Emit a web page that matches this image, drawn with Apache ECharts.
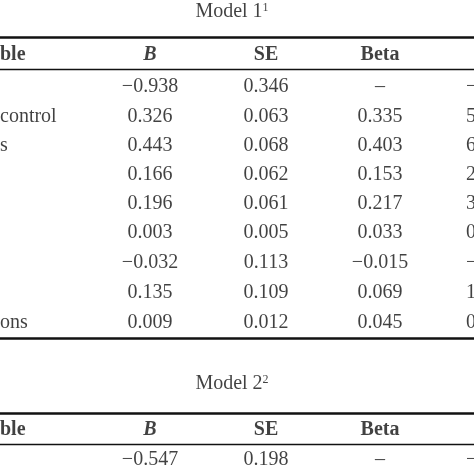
<!DOCTYPE html>
<html><head><meta charset="utf-8">
<script src="https://cdn.jsdelivr.net/npm/echarts@6/dist/echarts.min.js"></script>
<style>html,body{margin:0;padding:0;background:#fff}#c{width:474px;height:474px}</style>
</head><body><div id="c"></div>
<script>
// data
const headers = ["ble", "B", "SE", "Beta", ""];
const rowLabels1 = ["", "control", "s", "", "", "", "", "", "ons"];
const colB1 = ["\u22120.938", "0.326", "0.443", "0.166", "0.196", "0.003", "\u22120.032", "0.135", "0.009"];
const colSE1 = ["0.346", "0.063", "0.068", "0.062", "0.061", "0.005", "0.113", "0.109", "0.012"];
const colBeta1 = ["\u2013", "0.335", "0.403", "0.153", "0.217", "0.033", "\u22120.015", "0.069", "0.045"];
const colT1 = ["\u22122", "5", "6", "2", "3", "0", "\u22120", "1", "0"];
const rowLabels2 = [""];
const colB2 = ["\u22120.547"];
const colSE2 = ["0.198"];
const colBeta2 = ["\u2013"];
const colT2 = ["\u22122"];

// layout
const colX = [0, 150, 266, 380, 466];
const rows1Y = [87, 117, 146, 175, 204, 233, 263, 293, 323];
const header1Y = 55, header2Y = 430, rows2Y = [460];
const title1Y = 12, title2Y = 384;
const FONT = "Liberation Serif";

const pts = [];
function addRow(y, cells, bold) {
  cells.forEach((t, i) => {
    if (t === "") return;
    pts.push({value: [colX[i], y], text: t, align: (i === 0 || i === 4) ? 'left' : 'center', bold: bold, italic: bold && i === 1});
  });
}
addRow(header1Y, headers, true);
rows1Y.forEach((y, r) => addRow(y, [rowLabels1[r], colB1[r], colSE1[r], colBeta1[r], colT1[r]], false));
addRow(header2Y, headers, true);
rows2Y.forEach((y, r) => addRow(y, [rowLabels2[r], colB2[r], colSE2[r], colBeta2[r], colT2[r]], false));
pts.push({value: [232, title1Y], text: "{m|Model 1}{s|1}", align: 'center'});
pts.push({value: [232, title2Y], text: "{m|Model 2}{s|2}", align: 'center'});

const rules = [[37, 2.6], [69, 1.3], [338, 2.6], [413, 2.6], [444, 1.3]];

const chart = echarts.init(document.getElementById('c'));
chart.setOption({
  animation: false,
  grid: {left: 0, right: 0, top: 0, bottom: 0},
  xAxis: {type: 'value', min: 0, max: 474, show: false},
  yAxis: {type: 'value', min: 0, max: 474, inverse: true, show: false},
  series: [{
    type: 'scatter', symbolSize: 0, silent: true,
    data: pts.map(p => ({
      value: p.value,
      label: {
        show: true, position: 'inside', formatter: p.text, align: p.align, verticalAlign: 'middle',
        color: '#111', fontFamily: FONT, fontSize: 20,
        fontWeight: p.bold ? 'bold' : 'normal', fontStyle: p.italic ? 'italic' : 'normal',
        rich: {m: {fontFamily: FONT, fontSize: 20, color: '#111'},
               s: {fontFamily: FONT, fontSize: 12, color: '#111', verticalAlign: 'top', padding: [0,0,8,0]}}
      }
    }))
  }, {
    type: 'lines', coordinateSystem: 'cartesian2d', silent: true,
    data: rules.map(r => ({coords: [[0, r[0]], [474, r[0]]], lineStyle: {width: r[1], color: '#111', opacity: 1}}))
  }]
});
</script></body></html>
